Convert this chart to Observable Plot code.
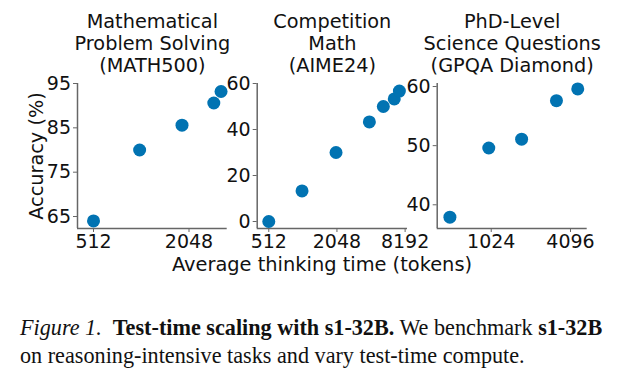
<!DOCTYPE html>
<html><head><meta charset="utf-8">
<script src="https://cdn.jsdelivr.net/npm/d3@7"></script>
<script src="https://cdn.jsdelivr.net/npm/@observablehq/plot@0.6"></script>
<style>
body{margin:0;background:#fff;}
#wrap{position:relative;width:637px;height:378px;overflow:hidden;font-family:"DejaVu Sans";background:#fff;}
.panel{position:absolute;top:0;}
#xlabel{position:absolute;left:0;width:644px;top:255.3px;text-align:center;font-size:19.4px;line-height:19.4px;color:#111;white-space:nowrap;}
#caption{position:absolute;left:20px;top:313.5px;font-family:"Liberation Serif";font-size:22.2px;line-height:28px;color:#111;white-space:nowrap;}
</style></head>
<body>
<div id="wrap">
<div id="p1" class="panel"></div>
<div id="p2" class="panel"></div>
<div id="p3" class="panel"></div>
<div id="xlabel">Average thinking time (tokens)</div>
<div id="caption"><i>Figure 1.</i>&nbsp; <b>Test-time scaling with s1-32B.</b> We benchmark <b>s1-32B</b><br>on reasoning-intensive tasks and vary test-time compute.</div>
</div>
<script>
// Panel titles
const titles = ["Mathematical\nProblem Solving\n(MATH500)", "Competition\nMath\n(AIME24)", "PhD-Level\nScience Questions\n(GPQA Diamond)"];
// MATH500
const mathTokens = [512, 1000, 1850, 2935, 3260];
const mathAcc = [64, 80, 85.6, 90.6, 93.2];
const mathYTicks = [65, 75, 85, 95];
const mathXTicks = [512, 2048];
// AIME24
const aimeTokens = [512, 1007, 2010, 3960, 5260, 6570, 7290];
const aimeAcc = [0, 13.3, 30, 43.3, 50, 53.3, 56.7];
const aimeYTicks = [0, 20, 40, 60];
const aimeXTicks = [512, 2048, 8192];
// GPQA Diamond
const gpqaTokens = [497, 981, 1742, 3204, 4650];
const gpqaAcc = [37.9, 49.6, 51.1, 57.6, 59.6];
const gpqaYTicks = [40, 50, 60];
const gpqaXTicks = [1024, 4096];

const yLabel = "Accuracy (%)";
const DOT = "#0173b2";
const SPINE = "#666";

function panel(cfg) {
  const data = cfg.tokens.map((t, i) => ({t, a: cfg.acc[i]}));
  const [x0] = cfg.xDomain, [y0] = cfg.yDomain;
  const marks = [
    Plot.ruleX([x0], {stroke: SPINE, strokeWidth: 1.5}),
    Plot.ruleY([y0], {stroke: SPINE, strokeWidth: 1.5}),
    Plot.axisX({ticks: cfg.xTicks, tickFormat: d => String(d), tickSize: 4, tickPadding: 1.5, stroke: SPINE, fill: "#111", label: null}),
    Plot.axisY({ticks: cfg.yTicks, tickFormat: d => String(d), tickSize: 4, tickPadding: 2.5, stroke: SPINE, fill: "#111", label: null}),
    Plot.dot(data, {x: "t", y: "a", r: 6.5, fill: DOT, stroke: "none"}),
    Plot.text([cfg.title], {frameAnchor: "top", lineAnchor: "top", textAnchor: "middle", dy: -70.5, lineHeight: 1.12, fontSize: 19.3, fill: "#111", text: d => d})
  ];
  if (cfg.yLabel) marks.push(Plot.text([cfg.yLabel], {frameAnchor: "left", textAnchor: "middle", lineAnchor: "middle", rotate: -90, dx: -41, fontSize: 19.3, fill: "#111", text: d => d}));
  return Plot.plot({
    width: cfg.width, height: 260,
    marginLeft: cfg.ml, marginRight: cfg.width - cfg.ml - cfg.fw,
    marginTop: 83, marginBottom: 32,
    style: {fontFamily: "DejaVu Sans", fontSize: "19px", background: "transparent", overflow: "visible"},
    x: {type: "log", base: 2, domain: cfg.xDomain},
    y: {domain: cfg.yDomain},
    marks
  });
}

const p1 = panel({title: titles[0], tokens: mathTokens, acc: mathAcc, xTicks: mathXTicks, yTicks: mathYTicks,
  xDomain: [405.8, 3565], yDomain: [62.3, 95], width: 232, ml: 77, fw: 149.7, yLabel});
const p2 = panel({title: titles[1], tokens: aimeTokens, acc: aimeAcc, xTicks: aimeXTicks, yTicks: aimeYTicks,
  xDomain: [404.6, 8600], yDomain: [-3.04, 60], width: 225, ml: 41.7, fw: 150.3});
const p3 = panel({title: titles[2], tokens: gpqaTokens, acc: gpqaAcc, xTicks: gpqaXTicks, yTicks: gpqaYTicks,
  xDomain: [398, 5486], yDomain: [35.99, 60.51], width: 237, ml: 36.7, fw: 150});
document.getElementById("p1").style.left = "0px";
document.getElementById("p2").style.left = "215px";
document.getElementById("p3").style.left = "400px";
document.getElementById("p1").appendChild(p1);
document.getElementById("p2").appendChild(p2);
document.getElementById("p3").appendChild(p3);
</script>
</body></html>
